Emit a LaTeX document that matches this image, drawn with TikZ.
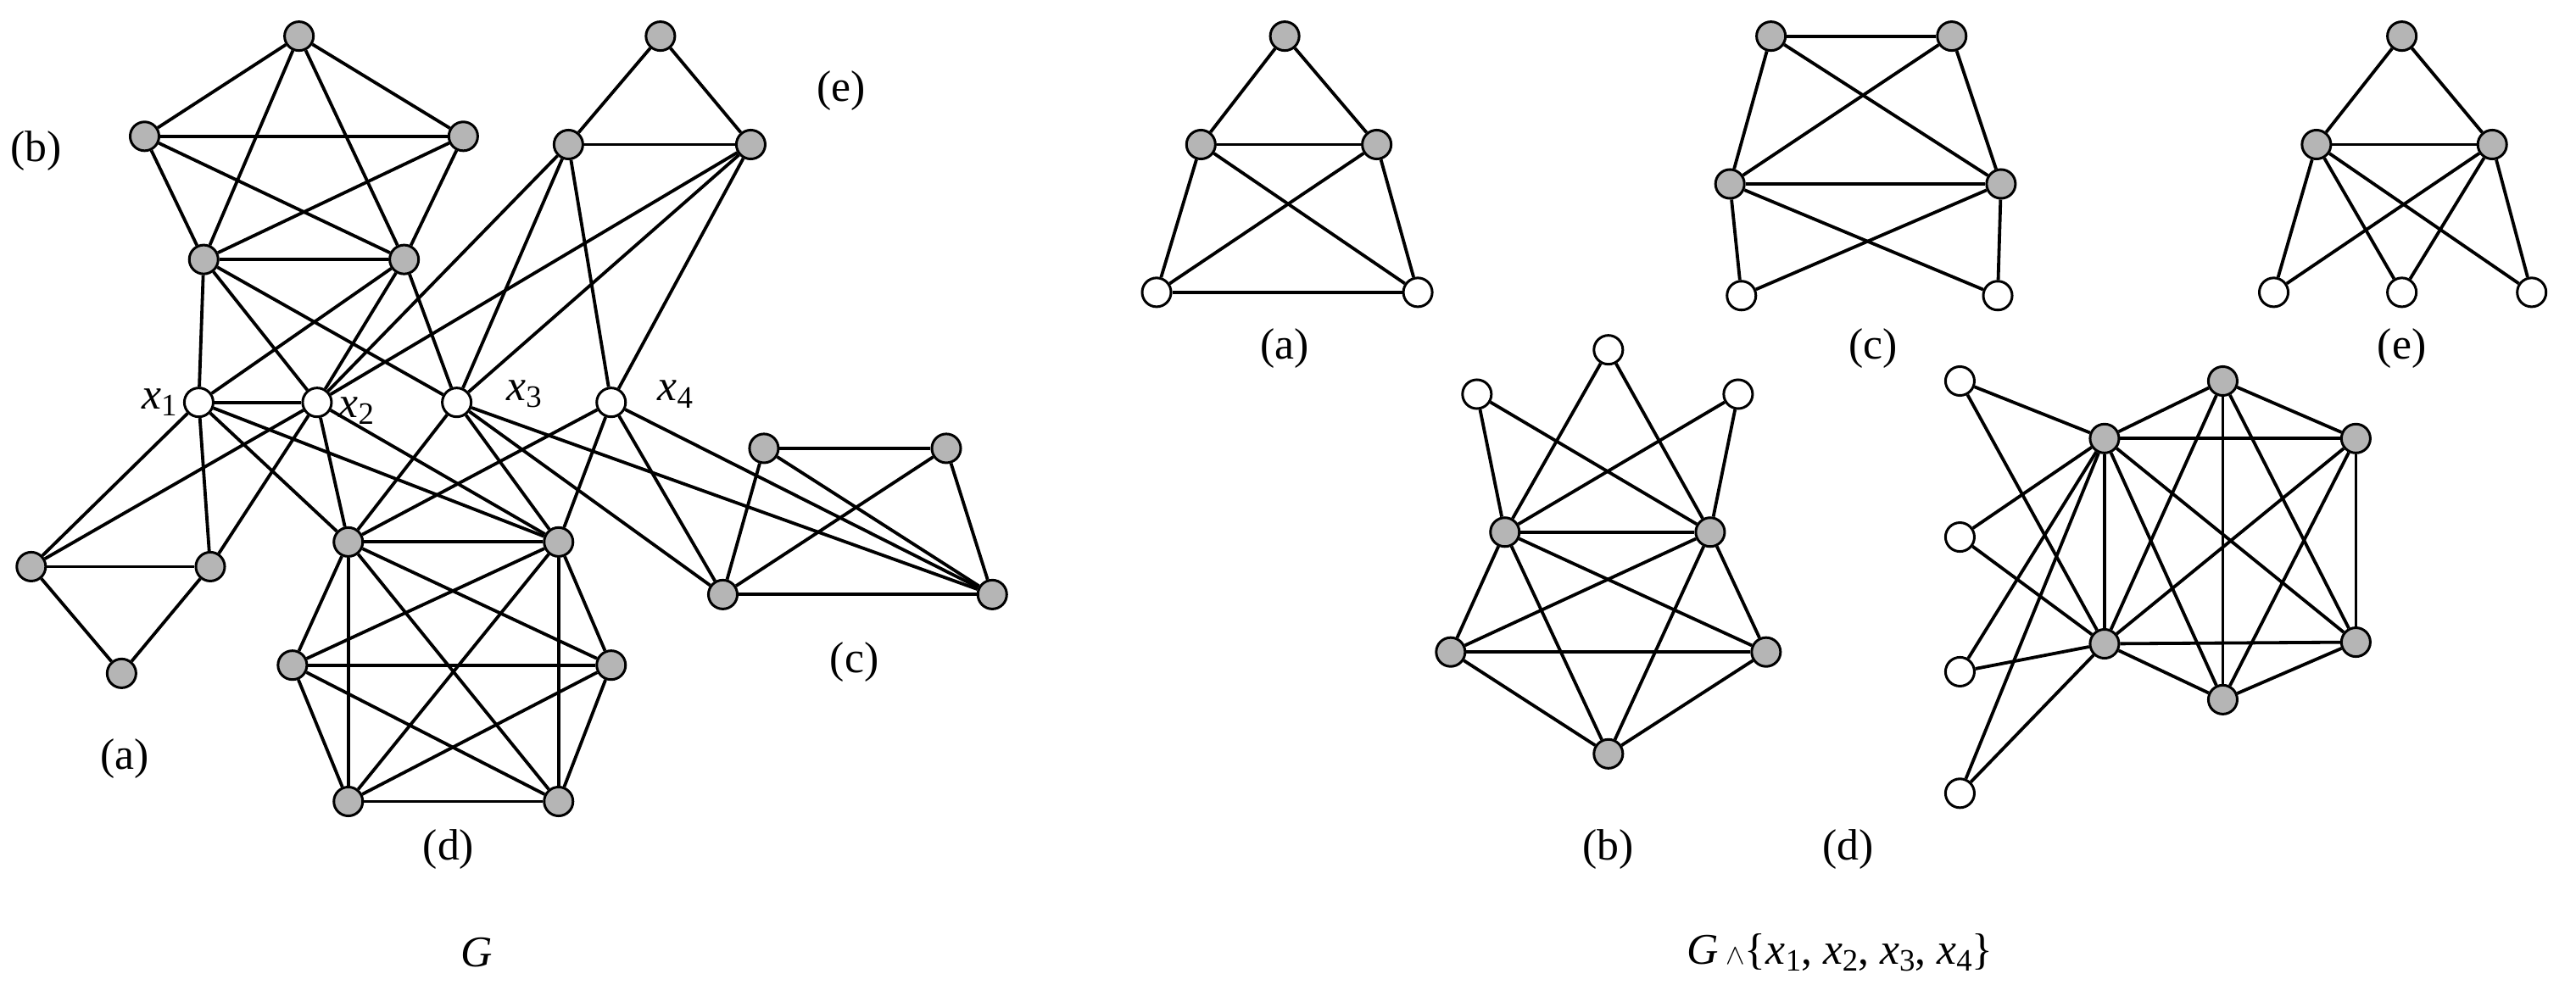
\documentclass[tikz,border=0pt]{standalone}
\usepackage{fontspec}
\setmainfont{Liberation Serif}
\newcommand{\xv}[1]{\textit{x}\raisebox{-0.35ex}{\fontsize{27}{27}\selectfont #1}}
\begin{document}
\begin{tikzpicture}[x=0.05cm,y=-0.05cm,
  g/.style={circle,draw,fill=gray!95!black!55,line width=2.2pt,minimum size=25pt,inner sep=0pt},
  w/.style={circle,draw,fill=white,line width=2.2pt,minimum size=25pt,inner sep=0pt},
  lab/.style={font=\fontsize{38}{40}\selectfont},
  every path/.style={line width=2.8pt}]
\useasboundingbox (0,0) rectangle (1568,606);
% ===== G =====
\node[g] (bt) at (182,22) {}; \node[g] (bl) at (88,83) {}; \node[g] (br) at (282,83) {};
\node[g] (bbl) at (124,158) {}; \node[g] (bbr) at (246,158) {};
\node[g] (et) at (402,22) {}; \node[g] (el) at (346,88) {}; \node[g] (er) at (457,88) {};
\node[w] (x1) at (121,245) {}; \node[w] (x2) at (193,245) {}; \node[w] (x3) at (278,245) {}; \node[w] (x4) at (372,245) {};
\node[g] (al) at (19,345) {}; \node[g] (ar) at (128,345) {}; \node[g] (ab) at (74,410) {};
\node[g] (dtl) at (212,330) {}; \node[g] (dtr) at (340,330) {}; \node[g] (dml) at (178,405) {};
\node[g] (dmr) at (372,405) {}; \node[g] (dbl) at (212,488) {}; \node[g] (dbr) at (340,488) {};
\node[g] (ctl) at (465,273) {}; \node[g] (ctr) at (576,273) {}; \node[g] (cbl) at (440,362) {}; \node[g] (cbr) at (604,362) {};
\begin{scope}[on background layer/.try]
\foreach \a/\b in {bt/bl,bt/br,bt/bbl,bt/bbr,bl/br,bl/bbl,bl/bbr,br/bbl,br/bbr,bbl/bbr,
 bbl/x1,bbl/x2,bbl/x3,bbr/x1,bbr/x2,bbr/x3,
 et/el,et/er,el/er,el/x2,el/x3,el/x4,er/x2,er/x3,er/x4,x1/x2,
 al/ar,al/ab,ar/ab,al/x1,al/x2,ar/x1,ar/x2,
 dtl/dtr,dtl/dml,dtl/dbl,dtl/dmr,dtl/dbr,dtr/dml,dtr/dbl,dtr/dmr,dtr/dbr,dml/dmr,dml/dbl,dml/dbr,dmr/dbl,dmr/dbr,dbl/dbr,
 x1/dtl,x1/dtr,x2/dtl,x2/dtr,x3/dtl,x3/dtr,x4/dtl,x4/dtr,
 ctl/ctr,ctl/cbl,ctl/cbr,ctr/cbl,ctr/cbr,cbl/cbr,x3/cbl,x3/cbr,x4/cbl,x4/cbr}
 \draw (\a) -- (\b);
\end{scope}
\node[lab] (lx1) at (97,245) {\xv{1}}; \node[lab] (lx2) at (217,250) {\xv{2}};
\node[lab] (lx3) at (319,240) {\xv{3}}; \node[lab] (lx4) at (411,240) {\xv{4}};
\node[lab] (Lb) at (22,92) {(b)}; \node[lab] (Le) at (512,55) {(e)}; \node[lab] (La) at (76,462) {(a)};
\node[lab] (Lc) at (520,403) {(c)}; \node[lab] (Ld) at (273,517) {(d)}; \node[lab] (LG) at (290,580) {\textit{G}};
% ===== right (a) =====
\node[g] (Aat) at (782,22) {}; \node[g] (Aal) at (731,88) {}; \node[g] (Aar) at (838,88) {};
\node[w] (Aabl) at (704,178) {}; \node[w] (Aabr) at (863,178) {};
% (c)
\node[g] (Cctl) at (1078,22) {}; \node[g] (Cctr) at (1188,22) {}; \node[g] (Ccml) at (1053,112) {};
\node[g] (Ccmr) at (1218,112) {}; \node[w] (Ccbl) at (1060,180) {}; \node[w] (Ccbr) at (1216,180) {};
% (e)
\node[g] (Eet) at (1462,22) {}; \node[g] (Eel) at (1410,88) {}; \node[g] (Eer) at (1517,88) {};
\node[w] (Ee1) at (1384,178) {}; \node[w] (Ee2) at (1462,178) {}; \node[w] (Ee3) at (1541,178) {};
% (b)
\node[w] (Bwt) at (979,213) {}; \node[w] (Bwl) at (899,240) {}; \node[w] (Bwr) at (1058,240) {};
\node[g] (Bgl) at (916,324) {}; \node[g] (Bgr) at (1041,324) {};
\node[g] (Bbl) at (883,397) {}; \node[g] (Bbr) at (1075,397) {}; \node[g] (Bb) at (979,459) {};
% (d)
\node[w] (Dw1) at (1193,232) {}; \node[w] (Dw2) at (1193,327) {}; \node[w] (Dw3) at (1193,409) {}; \node[w] (Dw4) at (1193,483) {};
\node[g] (DA) at (1281,267) {}; \node[g] (DB) at (1281,392) {}; \node[g] (DT) at (1353,232) {};
\node[g] (DBo) at (1353,426) {}; \node[g] (DR1) at (1434,267) {}; \node[g] (DR2) at (1434,391) {};
\begin{scope}[on background layer/.try]
\foreach \a/\b in {Aat/Aal,Aat/Aar,Aal/Aar,Aal/Aabl,Aal/Aabr,Aar/Aabl,Aar/Aabr,Aabl/Aabr,
 Cctl/Cctr,Cctl/Ccml,Cctl/Ccmr,Cctr/Ccml,Cctr/Ccmr,Ccml/Ccmr,Ccml/Ccbl,Ccml/Ccbr,Ccmr/Ccbl,Ccmr/Ccbr,
 Eet/Eel,Eet/Eer,Eel/Eer,Eel/Ee1,Eel/Ee2,Eel/Ee3,Eer/Ee1,Eer/Ee2,Eer/Ee3,
 Bwl/Bgl,Bwl/Bgr,Bwt/Bgl,Bwt/Bgr,Bwr/Bgl,Bwr/Bgr,Bgl/Bgr,Bgl/Bbl,Bgl/Bbr,Bgl/Bb,Bgr/Bbl,Bgr/Bbr,Bgr/Bb,Bbl/Bbr,Bbl/Bb,Bbr/Bb,
 Dw1/DA,Dw1/DB,Dw2/DA,Dw2/DB,Dw3/DA,Dw3/DB,Dw4/DA,Dw4/DB,
 DA/DB,DA/DT,DA/DBo,DA/DR1,DA/DR2,DB/DT,DB/DBo,DB/DR1,DB/DR2,DT/DBo,DT/DR1,DT/DR2,DBo/DR1,DBo/DR2,DR1/DR2}
 \draw (\a) -- (\b);
\end{scope}
\node[lab] (Ra) at (782,212) {(a)}; \node[lab] (Rc) at (1140,212) {(c)}; \node[lab] (Re) at (1462,212) {(e)};
\node[lab] (Rb) at (979,517) {(b)}; \node[lab] (Rd) at (1125,517) {(d)};
\node[lab] (RG) at (1120,580) {\textit{G}\,$\wedge$\{\xv{1}, \xv{2}, \xv{3}, \xv{4}\}};
\end{tikzpicture}
\end{document}
